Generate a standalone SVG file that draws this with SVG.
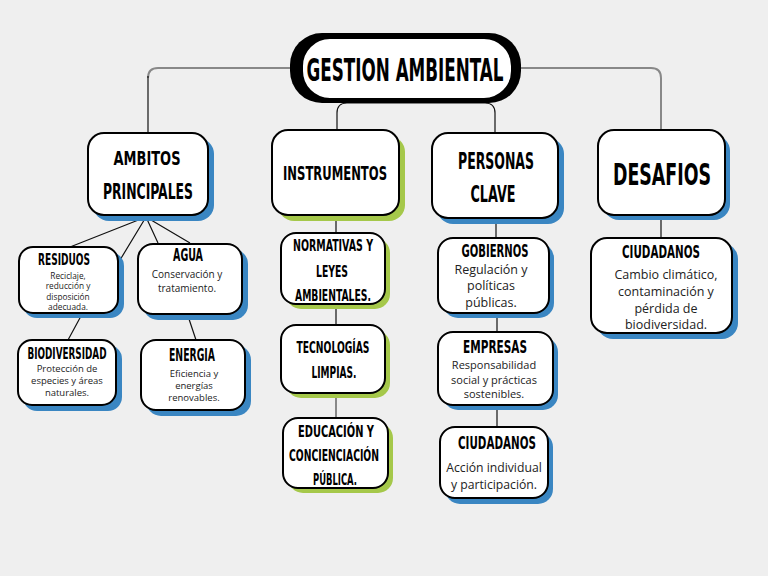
<svg xmlns="http://www.w3.org/2000/svg" width="768" height="576" viewBox="0 0 768 576">
<style>
.box{fill:#fff;stroke:#000;stroke-width:2}
.sb{fill:#3a86c2}
.sg{fill:#a5c84a}
.h{font-family:"DejaVu Sans Condensed","DejaVu Sans",sans-serif;font-weight:bold;fill:#000;text-anchor:middle}
.b{font-family:"Open Sans","Noto Sans",sans-serif;fill:#222;text-anchor:middle}
.c{fill:none;stroke:#111;stroke-width:1.2}
.cg{fill:none;stroke:#888;stroke-width:2}
</style>
<rect width="768" height="576" fill="#efefef"/>
<g id="connectors">
<path class="cg" d="M292,68 H158 Q148,68 148,78"/>
<path class="c" d="M148,76 V134"/>
<path class="cg" d="M518,68 H651 Q661,68 661,78 V131"/>
<path class="c" d="M337,131 V113 Q337,103 347,103 H485 Q495,103 495,113 V134"/>
<path class="c" d="M146,217 L70,247 M146,217 L120,260 M146,217 L158,243 M146,217 L190,243"/>
<path class="c" d="M81,316 L68,340 M188,316 L196,340"/>
<path class="c" d="M336,215 V234 M336,304 V326"/>
<path class="cg" d="M336,393 V419"/>
<path class="c" d="M496,218 V239 M497,313 V333 M497,405 V428 M661,215 V239"/>
</g>
<g id="title">
<rect x="290" y="33" width="231" height="70" rx="32" fill="#000"/>
<rect x="302" y="38" width="210" height="61" rx="28" class="box"/>
<text class="h" x="405" y="81" font-size="32" textLength="197" lengthAdjust="spacingAndGlyphs">GESTION AMBIENTAL</text>
</g>
<g id="ambitos">
<rect class="sb" x="93" y="138" width="121" height="83" rx="16"/>
<rect class="box" x="88" y="133" width="120" height="82" rx="16"/>
<text class="h" x="147" y="165" font-size="20" textLength="67" lengthAdjust="spacingAndGlyphs">AMBITOS</text>
<text class="h" x="148" y="199" font-size="21" textLength="90" lengthAdjust="spacingAndGlyphs">PRINCIPALES</text>
</g>
<g id="residuos">
<rect class="sb" x="23" y="252" width="101" height="66" rx="14"/>
<rect class="box" x="19" y="247" width="99" height="66" rx="14"/>
<text class="h" x="64" y="265" font-size="15" textLength="52" lengthAdjust="spacingAndGlyphs">RESIDUOS</text>
<text class="b" x="68" y="279" font-size="8.3">Reciclaje,</text>
<text class="b" x="68" y="289" font-size="8.3">reducción y</text>
<text class="b" x="68" y="300" font-size="8.3">disposición</text>
<text class="b" x="68" y="310" font-size="8.3">adecuada.</text>
</g>
<g id="agua">
<rect class="sb" x="143" y="249" width="105" height="71" rx="15"/>
<rect class="box" x="138" y="244" width="104" height="70" rx="15"/>
<text class="h" x="188" y="261" font-size="17" textLength="30" lengthAdjust="spacingAndGlyphs">AGUA</text>
<text class="b" x="187" y="278" font-size="10">Conservación y</text>
<text class="b" x="187" y="292" font-size="10">tratamiento.</text>
</g>
<g id="biodiversidad">
<rect class="sb" x="23" y="345" width="99" height="66" rx="14"/>
<rect class="box" x="18" y="340" width="98" height="65" rx="14"/>
<text class="h" x="67" y="359" font-size="16" textLength="79" lengthAdjust="spacingAndGlyphs">BIODIVERSIDAD</text>
<text class="b" x="67" y="372" font-size="9.5">Protección de</text>
<text class="b" x="67" y="384" font-size="9.5">especies y áreas</text>
<text class="b" x="67" y="396" font-size="9.5">naturales.</text>
</g>
<g id="energia">
<rect class="sb" x="146" y="345" width="105" height="71" rx="15"/>
<rect class="box" x="141" y="340" width="104" height="70" rx="15"/>
<text class="h" x="192" y="361" font-size="17" textLength="46" lengthAdjust="spacingAndGlyphs">ENERGIA</text>
<text class="b" x="194" y="377" font-size="9.5">Eficiencia y</text>
<text class="b" x="194" y="389" font-size="9.5">energías</text>
<text class="b" x="194" y="401" font-size="9.5">renovables.</text>
</g>
<g id="instrumentos">
<rect class="sg" x="278" y="136" width="127" height="85" rx="16"/>
<rect class="box" x="272" y="130" width="127" height="85" rx="16"/>
<text class="h" x="335" y="180" font-size="19" textLength="104" lengthAdjust="spacingAndGlyphs">INSTRUMENTOS</text>
</g>
<g id="normativas">
<rect class="sg" x="286" y="238" width="104" height="71" rx="15"/>
<rect class="box" x="281" y="233" width="104" height="71" rx="15"/>
<text class="h" x="333" y="251" font-size="15" textLength="80" lengthAdjust="spacingAndGlyphs">NORMATIVAS Y</text>
<text class="h" x="332" y="277" font-size="15" textLength="32" lengthAdjust="spacingAndGlyphs">LEYES</text>
<text class="h" x="333" y="301" font-size="15" textLength="76" lengthAdjust="spacingAndGlyphs">AMBIENTALES.</text>
</g>
<g id="tecnologias">
<rect class="sg" x="286" y="330" width="104" height="68" rx="15"/>
<rect class="box" x="281" y="325" width="104" height="68" rx="15"/>
<text class="h" x="333" y="353" font-size="15" textLength="73" lengthAdjust="spacingAndGlyphs">TECNOLOGÍAS</text>
<text class="h" x="334" y="378" font-size="15" textLength="45" lengthAdjust="spacingAndGlyphs">LIMPIAS.</text>
</g>
<g id="educacion">
<rect class="sg" x="288" y="423" width="105" height="70" rx="15"/>
<rect class="box" x="283" y="418" width="105" height="70" rx="15"/>
<text class="h" x="336" y="437" font-size="15" textLength="76" lengthAdjust="spacingAndGlyphs">EDUCACIÓN Y</text>
<text class="h" x="334" y="461" font-size="15" textLength="90" lengthAdjust="spacingAndGlyphs">CONCIENCIACIÓN</text>
<text class="h" x="335" y="485" font-size="15" textLength="44" lengthAdjust="spacingAndGlyphs">PÚBLICA.</text>
</g>
<g id="personas">
<rect class="sb" x="437" y="138" width="127" height="86" rx="16"/>
<rect class="box" x="432" y="133" width="126" height="85" rx="16"/>
<text class="h" x="496" y="169" font-size="23" textLength="76" lengthAdjust="spacingAndGlyphs">PERSONAS</text>
<text class="h" x="493" y="202" font-size="23" textLength="45" lengthAdjust="spacingAndGlyphs">CLAVE</text>
</g>
<g id="gobiernos">
<rect class="sb" x="443" y="243" width="111" height="75" rx="15"/>
<rect class="box" x="438" y="238" width="111" height="75" rx="15"/>
<text class="h" x="495" y="257" font-size="17" textLength="67" lengthAdjust="spacingAndGlyphs">GOBIERNOS</text>
<text class="b" x="491" y="274" font-size="12.5">Regulación y</text>
<text class="b" x="491" y="290" font-size="12.5">políticas</text>
<text class="b" x="491" y="307" font-size="12.5">públicas.</text>
</g>
<g id="empresas">
<rect class="sb" x="443" y="337" width="115" height="73" rx="15"/>
<rect class="box" x="438" y="332" width="115" height="73" rx="15"/>
<text class="h" x="495" y="353" font-size="17" textLength="64" lengthAdjust="spacingAndGlyphs">EMPRESAS</text>
<text class="b" x="494" y="369" font-size="11">Responsabilidad</text>
<text class="b" x="494" y="384" font-size="11">social y prácticas</text>
<text class="b" x="494" y="398" font-size="11">sostenibles.</text>
</g>
<g id="ciudadanos-personas">
<rect class="sb" x="445" y="432" width="108" height="72" rx="15"/>
<rect class="box" x="440" y="427" width="108" height="71" rx="15"/>
<text class="h" x="497" y="449" font-size="17" textLength="78" lengthAdjust="spacingAndGlyphs">CIUDADANOS</text>
<text class="b" x="494" y="472" font-size="12.2">Acción individual</text>
<text class="b" x="494" y="489" font-size="12.2">y participación.</text>
</g>
<g id="desafios">
<rect class="sb" x="603" y="135" width="127" height="85" rx="16"/>
<rect class="box" x="598" y="130" width="127" height="85" rx="16"/>
<text class="h" x="662" y="185" font-size="30" textLength="98" lengthAdjust="spacingAndGlyphs">DESAFIOS</text>
</g>
<g id="ciudadanos-desafios">
<rect class="sb" x="597" y="243" width="141" height="96" rx="16"/>
<rect class="box" x="591" y="238" width="141" height="95" rx="16"/>
<text class="h" x="661" y="258" font-size="17" textLength="78" lengthAdjust="spacingAndGlyphs">CIUDADANOS</text>
<text class="b" x="666" y="279" font-size="12.5">Cambio climático,</text>
<text class="b" x="666" y="296" font-size="12.5">contaminación y</text>
<text class="b" x="666" y="313" font-size="12.5">pérdida de</text>
<text class="b" x="666" y="329" font-size="12.5">biodiversidad.</text>
</g>
</svg>
